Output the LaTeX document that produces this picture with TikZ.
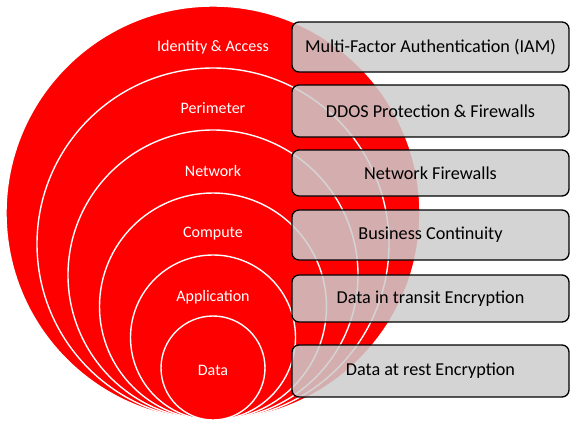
\documentclass[tikz,border=0pt]{standalone}
\usepackage{fontspec}
\setmainfont{Carlito}
\definecolor{ringred}{RGB}{255,0,0}
\definecolor{boxgray}{RGB}{205,205,205}
\tikzset{
  ring/.style={fill=ringred, draw=white, line width=1.4pt},
  ringlabel/.style={text=white, font=\fontsize{16}{18}\selectfont, anchor=center},
  layerbox/.style={draw=black, line width=1.3pt, fill=boxgray, fill opacity=0.85, rounded corners=7pt},
  boxtext/.style={font=\fontsize{18.2}{20}\selectfont, text=black}
}
\begin{document}
\begin{tikzpicture}[x=1pt,y=-1pt]
\useasboundingbox (0,0) rectangle (576,426);
\foreach \r in {207,176,145,113.5,82.5,52}{
  \path[ring] (213,420-\r) circle[radius=\r];
}
\node[ringlabel] (l1) at (213,47) {Identity \& Access};
\node[ringlabel] (l2) at (213,108) {Perimeter};
\node[ringlabel] (l3) at (213,171) {Network};
\node[ringlabel] (l4) at (213,234) {Compute};
\node[ringlabel] (l5) at (213,297) {Application};
\node[ringlabel] (l6) at (213,370) {Data};
\foreach \t/\b/\txt/\n in {22/72/{Multi-Factor Authentication (IAM)}/b1, 85/137/{DDOS Protection \& Firewalls}/b2, 150/196/{Network Firewalls}/b3, 210/260/{Business Continuity}/b4, 275/322/{Data in transit Encryption}/b5, 345/397/{Data at rest Encryption}/b6}{
  \draw[layerbox] (292,\t) rectangle (569,\b);
  \node[boxtext] (\n) at (430.5,{(\t+\b)/2}) {\txt};
}
\end{tikzpicture}
\end{document}
